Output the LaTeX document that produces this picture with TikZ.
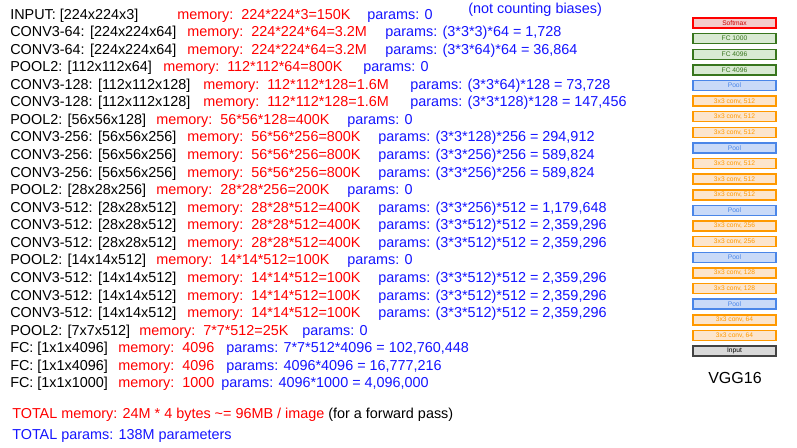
\documentclass[tikz,border=0pt]{standalone}
\usepackage{fontspec}
\setmainfont{Liberation Sans}
\begin{document}
\begin{tikzpicture}[x=0.75pt,y=-0.75pt,
 t/.style={anchor=base west,inner sep=0pt,font=\fontsize{10.8}{12}\selectfont},
 blk/.style={t,text=black},
 mem/.style={t,text=red},
 par/.style={t,text={rgb,255:red,20;green,20;blue,255}},
 lay/.style={minimum width=62pt,minimum height=7.5pt,inner sep=0pt,line width=1.1pt,font=\fontsize{5}{5}\selectfont},
 sm/.style={lay,draw=red,fill={rgb,255:red,244;green,204;blue,204},text=red!80!black},
 fc/.style={lay,draw={rgb,255:red,56;green,118;blue,29},fill={rgb,255:red,217;green,234;blue,211},text={rgb,255:red,56;green,118;blue,29}},
 pl/.style={lay,draw={rgb,255:red,74;green,134;blue,232},fill={rgb,255:red,201;green,218;blue,248},text={rgb,255:red,74;green,134;blue,232}},
 cv/.style={lay,draw={rgb,255:red,255;green,153;blue,0},fill={rgb,255:red,252;green,229;blue,205},text={rgb,255:red,255;green,153;blue,0}},
 inp/.style={lay,draw={rgb,255:red,67;green,67;blue,67},fill={rgb,255:red,217;green,217;blue,217},text=black}]
\useasboundingbox (0,0) rectangle (797,447);
\def\r#1{19+17.57*#1}
\node[par] (nb) at (468,13) {(not counting biases)};
\foreach \i/\a/\xa/\b/\xb/\c [count=\n] in {
0/INPUT: [224x224x3]/177/224*224*3=150K/367/params: 0,
1/CONV3-64: [224x224x64]/187/224*224*64=3.2M/385/params: (3*3*3)*64 = 1{,}728,
2/CONV3-64: [224x224x64]/187/224*224*64=3.2M/385/params: (3*3*64)*64 = 36{,}864,
3/POOL2: [112x112x64]/163/112*112*64=800K/363/params: 0,
4/CONV3-128: [112x112x128]/203/112*112*128=1.6M/410/params: (3*3*64)*128 = 73{,}728,
5/CONV3-128: [112x112x128]/203/112*112*128=1.6M/410/params: (3*3*128)*128 = 147{,}456,
6/POOL2: [56x56x128]/156/56*56*128=400K/347/params: 0,
7/CONV3-256: [56x56x256]/187/56*56*256=800K/378/params: (3*3*128)*256 = 294{,}912,
8/CONV3-256: [56x56x256]/187/56*56*256=800K/378/params: (3*3*256)*256 = 589{,}824,
9/CONV3-256: [56x56x256]/187/56*56*256=800K/378/params: (3*3*256)*256 = 589{,}824,
10/POOL2: [28x28x256]/156/28*28*256=200K/347/params: 0,
11/CONV3-512: [28x28x512]/187/28*28*512=400K/378/params: (3*3*256)*512 = 1{,}179{,}648,
12/CONV3-512: [28x28x512]/187/28*28*512=400K/378/params: (3*3*512)*512 = 2{,}359{,}296,
13/CONV3-512: [28x28x512]/187/28*28*512=400K/378/params: (3*3*512)*512 = 2{,}359{,}296,
14/POOL2: [14x14x512]/156/14*14*512=100K/347/params: 0,
15/CONV3-512: [14x14x512]/187/14*14*512=100K/378/params: (3*3*512)*512 = 2{,}359{,}296,
16/CONV3-512: [14x14x512]/187/14*14*512=100K/378/params: (3*3*512)*512 = 2{,}359{,}296,
17/CONV3-512: [14x14x512]/187/14*14*512=100K/378/params: (3*3*512)*512 = 2{,}359{,}296,
18/POOL2: [7x7x512]/139/7*7*512=25K/302/params: 0,
19/FC: [1x1x4096]/118/4096/226/params: 7*7*512*4096 = 102{,}760{,}448,
20/FC: [1x1x4096]/118/4096/226/params: 4096*4096 = 16{,}777{,}216,
21/FC: [1x1x1000]/118/1000/221/params: 4096*1000 = 4{,}096{,}000}
{
 \node[blk] (a\n) at (10,{\r{\i}}) {\a};
 \node[mem] (m\n) at (\xa,{\r{\i}}) {memory:\ \ \b};
 \node[par] (p\n) at (\xb,{\r{\i}}) {\c};
}
\node[t,text=red] (tm) at (12,418) {TOTAL memory: 24M * 4 bytes \textasciitilde= 96MB / image \textcolor{black}{(for a forward pass)}};
\node[par] (tp) at (12,439) {TOTAL params: 138M parameters};
\foreach \k/\s/\txt in {0/sm/Softmax,1/fc/FC 1000,2/fc/FC 4096,3/fc/FC 4096,4/pl/Pool,
5/cv/{3x3 conv, 512},6/cv/{3x3 conv, 512},7/cv/{3x3 conv, 512},8/pl/Pool,
9/cv/{3x3 conv, 512},10/cv/{3x3 conv, 512},11/cv/{3x3 conv, 512},12/pl/Pool,
13/cv/{3x3 conv, 256},14/cv/{3x3 conv, 256},15/pl/Pool,16/cv/{3x3 conv, 128},17/cv/{3x3 conv, 128},
18/pl/Pool,19/cv/{3x3 conv, 64},20/cv/{3x3 conv, 64},21/inp/Input}
 \node[\s] (b\k) at (734.5,{23+15.62*\k}) {\txt};
\node[font=\fontsize{12}{14}\selectfont] (vgg) at (735,378) {VGG16};
\end{tikzpicture}
\end{document}
